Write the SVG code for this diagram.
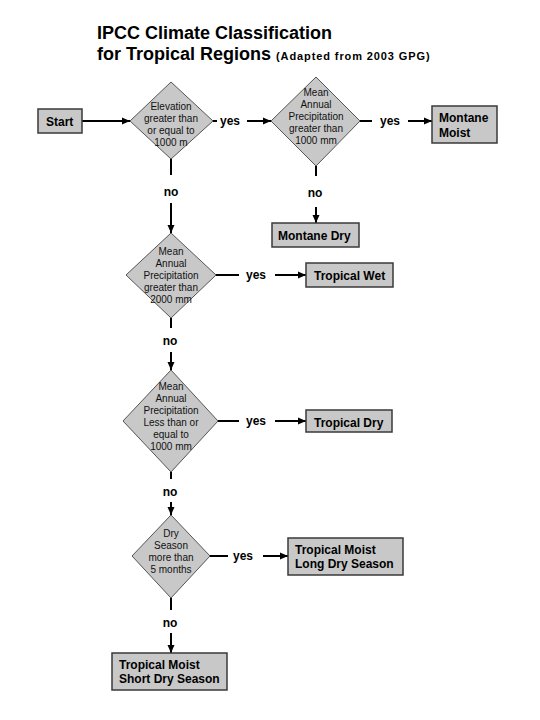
<svg xmlns="http://www.w3.org/2000/svg" width="540" height="720" viewBox="0 0 540 720">
<style>
.bg{fill:#ffffff}
.title{font-family:"Liberation Sans",Arial,sans-serif;font-weight:bold;font-size:18px;fill:#000}
.sub{font-family:"Liberation Sans",Arial,sans-serif;font-weight:bold;font-size:11px;letter-spacing:0.9px;fill:#000}
.box{fill:#c8c8c8;stroke:#3a3a3a;stroke-width:1.5}
.dia{fill:#c8c8c8;stroke:#555;stroke-width:1}
.bt{font-family:"Liberation Sans",Arial,sans-serif;font-weight:bold;font-size:12px;fill:#000}
.dt{font-family:"Liberation Sans",Arial,sans-serif;font-size:10px;fill:#111;text-anchor:middle}
.lbl{font-family:"Liberation Sans",Arial,sans-serif;font-weight:bold;font-size:12px;fill:#000}
.mid{text-anchor:middle}
.ln{stroke:#000;stroke-width:2;fill:none}
.arr{stroke:#000;stroke-width:2;fill:none;marker-end:url(#ah)}
</style>
<defs>
<marker id="ah" markerUnits="userSpaceOnUse" markerWidth="8" markerHeight="8" refX="8" refY="4" orient="auto">
<path d="M0,0.5 L8,4 L0,7.5 z" fill="#000"/>
</marker>
</defs>
<rect class="bg" x="0" y="0" width="540" height="720"/>

<g id="title">
<text class="title" x="97" y="39">IPCC Climate Classification</text>
<text class="title" x="97" y="60">for Tropical Regions</text>
<text class="sub" x="276" y="60">(Adapted from 2003 GPG)</text>
</g>

<g id="connectors">
<line class="arr" x1="82" y1="121" x2="130" y2="121"/>
<line class="ln" x1="213" y1="121" x2="217" y2="121"/>
<text class="lbl" x="220" y="125">yes</text>
<line class="arr" x1="247" y1="121" x2="271" y2="121"/>
<line class="ln" x1="360" y1="121" x2="372" y2="121"/>
<text class="lbl" x="380" y="125">yes</text>
<line class="arr" x1="408" y1="121" x2="432" y2="121"/>
<line class="ln" x1="316" y1="166" x2="316" y2="176"/>
<text class="lbl mid" x="315" y="197">no</text>
<line class="arr" x1="316" y1="207" x2="316" y2="223"/>
<line class="ln" x1="171" y1="159" x2="171" y2="175"/>
<text class="lbl mid" x="171" y="196">no</text>
<line class="arr" x1="171" y1="203" x2="171" y2="233"/>
<line class="ln" x1="216" y1="275" x2="239" y2="275"/>
<text class="lbl" x="246" y="279">yes</text>
<line class="arr" x1="275" y1="275" x2="306" y2="275"/>
<line class="ln" x1="171" y1="318" x2="171" y2="328"/>
<text class="lbl mid" x="170" y="345">no</text>
<line class="arr" x1="171" y1="352" x2="171" y2="370"/>
<line class="ln" x1="218" y1="421" x2="239" y2="421"/>
<text class="lbl" x="246" y="425">yes</text>
<line class="arr" x1="275" y1="421" x2="306" y2="421"/>
<line class="ln" x1="171" y1="472" x2="171" y2="479"/>
<text class="lbl mid" x="170" y="496">no</text>
<line class="arr" x1="171" y1="502" x2="171" y2="515"/>
<line class="ln" x1="210" y1="556" x2="228" y2="556"/>
<text class="lbl" x="233" y="560">yes</text>
<line class="arr" x1="263" y1="556" x2="288" y2="556"/>
<line class="ln" x1="171" y1="598" x2="171" y2="610"/>
<text class="lbl mid" x="170" y="627">no</text>
<line class="arr" x1="171" y1="633" x2="171" y2="653"/>
</g>

<g id="start">
<rect class="box" x="38" y="109" width="44" height="24"/>
<text class="bt" x="46" y="126">Start</text>
</g>

<g id="d-elevation">
<polygon class="dia" points="171,82 213,121 171,159 130,121"/>
<text class="dt" x="171" y="110">Elevation</text>
<text class="dt" x="171" y="122">greater than</text>
<text class="dt" x="171" y="134">or equal to</text>
<text class="dt" x="171" y="146">1000 m</text>
</g>

<g id="d-precip1000">
<polygon class="dia" points="316,77 360,121 316,166 271,121"/>
<text class="dt" x="316" y="96">Mean</text>
<text class="dt" x="316" y="108">Annual</text>
<text class="dt" x="316" y="120">Precipitation</text>
<text class="dt" x="316" y="132">greater than</text>
<text class="dt" x="316" y="144">1000 mm</text>
</g>

<g id="montane-moist">
<rect class="box" x="432" y="106" width="65" height="37"/>
<text class="bt" x="439" y="122">Montane</text>
<text class="bt" x="439" y="137">Moist</text>
</g>

<g id="montane-dry">
<rect class="box" x="272" y="223" width="87" height="24"/>
<text class="bt" x="278" y="240">Montane Dry</text>
</g>

<g id="d-precip2000">
<polygon class="dia" points="171,233 216,275 171,318 126,275"/>
<text class="dt" x="171" y="255">Mean</text>
<text class="dt" x="171" y="267">Annual</text>
<text class="dt" x="171" y="279">Precipitation</text>
<text class="dt" x="171" y="291">greater than</text>
<text class="dt" x="171" y="303">2000 mm</text>
</g>

<g id="tropical-wet">
<rect class="box" x="306" y="263" width="87" height="24"/>
<text class="bt" x="314" y="280">Tropical Wet</text>
</g>

<g id="d-precip-le1000">
<polygon class="dia" points="171,370 218,421 171,472 123,421"/>
<text class="dt" x="171" y="390">Mean</text>
<text class="dt" x="171" y="402">Annual</text>
<text class="dt" x="171" y="414">Precipitation</text>
<text class="dt" x="171" y="426">Less than or</text>
<text class="dt" x="171" y="438">equal to</text>
<text class="dt" x="171" y="450">1000 mm</text>
</g>

<g id="tropical-dry">
<rect class="box" x="306" y="410" width="86" height="22"/>
<text class="bt" x="314" y="427">Tropical Dry</text>
</g>

<g id="d-dryseason">
<polygon class="dia" points="171,515 210,556 171,598 132,556"/>
<text class="dt" x="171" y="537">Dry</text>
<text class="dt" x="171" y="549">Season</text>
<text class="dt" x="171" y="561">more than</text>
<text class="dt" x="171" y="573">5 months</text>
</g>

<g id="tropical-moist-long">
<rect class="box" x="288" y="538" width="115" height="37"/>
<text class="bt" x="295" y="554">Tropical Moist</text>
<text class="bt" x="295" y="568">Long Dry Season</text>
</g>

<g id="tropical-moist-short">
<rect class="box" x="112" y="653" width="115" height="37"/>
<text class="bt" x="119" y="669">Tropical Moist</text>
<text class="bt" x="119" y="683">Short Dry Season</text>
</g>
</svg>
